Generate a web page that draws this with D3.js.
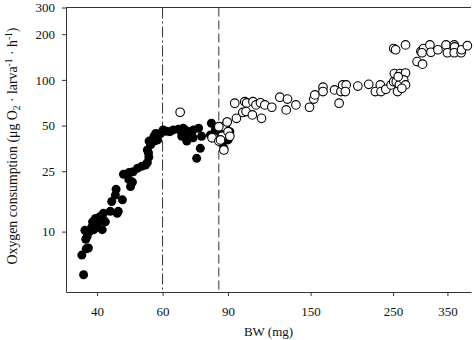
<!DOCTYPE html>
<html>
<head>
<meta charset="utf-8">
<script src="https://d3js.org/d3.v7.min.js"></script>
<style>
    body { margin: 0; background: #ffffff; }
    svg text { font-family: "Liberation Serif", "Times New Roman", serif; }
</style>
</head>
<body>
<svg id="drawing_region"></svg>
<script>
// body weight (mg) and oxygen consumption
const filled_bw = [36.8, 36.4, 37.4, 37.9, 37.3, 37.6, 37.1, 38.2, 38.7, 39.2, 38.9, 40.0, 41.3, 39.6, 40.8,
    41.6, 41.6, 40.4, 42.1, 43.4, 45.3, 45.6, 43.8, 46.8, 44.8, 45.0, 49.2, 49.8, 48.7, 47.1, 48.7, 50.0,
    51.4, 52.8, 54.0, 54.6, 55.1, 55.0, 54.6, 55.7, 55.2, 57.0, 58.2, 56.9, 57.5, 59.3, 60.2, 61.5, 62.8,
    64.1, 66.2, 67.6, 68.2, 69.0, 69.6, 69.0, 70.8, 71.8, 72.6, 67.6, 69.7, 72.5, 74.1, 75.8, 75.0, 76.4,
    80.7, 81.2, 83.2, 85.9, 86.8, 87.7, 90.0, 91.0, 88.6, 89.5];
const filled_o2 = [5.2, 7.0, 7.7, 7.8, 8.9, 9.3, 10.2, 10.0, 10.7, 10.3, 11.6, 11.3, 10.3, 12.2, 12.6,
    13.2, 11.9, 11.6, 11.6, 13.6, 13.2, 13.6, 15.8, 16.2, 17.4, 19.0, 19.8, 21.2, 22.0, 23.9, 24.5, 24.8,
    26.2, 27.0, 27.5, 28.5, 31.0, 33.0, 34.5, 37.3, 39.5, 39.5, 40.2, 42.5, 44.4, 44.4, 46.8, 45.8, 45.6,
    46.8, 47.3, 44.4, 48.0, 46.8, 45.6, 43.4, 45.6, 43.4, 46.8, 42.5, 39.5, 41.5, 30.4, 35.4, 48.0, 42.5,
    43.4, 51.8, 46.8, 44.4, 38.3, 35.4, 40.2, 45.6, 49.2, 52.8];

const open_bw = [66.9, 81.5, 85.0, 86.8, 87.7, 89.5, 90.0, 91.0, 87.7, 85.0, 85.9, 93.8, 99.8, 101, 105,
    107, 110, 113, 118, 94.8, 98.6, 100.6, 104.6, 110.7, 124, 130, 137, 129, 149, 153, 154, 162, 162, 174,
    179, 181, 183, 187, 186, 201, 215, 224, 231, 232, 239, 247, 251, 252, 261, 270, 255, 260, 267, 270,
    257, 258, 264, 251, 254, 270, 290, 300, 297, 302, 314, 316, 330, 299, 347, 365, 366, 350, 365, 381,
    382, 396];
const open_o2 = [61.2, 41.5, 39.5, 42.5, 49.2, 52.8, 45.6, 42.5, 34.5, 49.2, 40.2, 70.2, 71.9, 70.5, 71.9,
    68.4, 70.7, 68.4, 66.0, 55.8, 61.0, 61.8, 58.8, 55.8, 76.9, 74.7, 68.4, 63.4, 66.0, 74.7, 79.6, 89.5,
    83.8, 85.9, 70.2, 83.8, 92.7, 92.7, 83.8, 91.0, 93.5, 83.7, 92.7, 83.7, 86.7, 92.7, 97.3, 110, 110, 111,
    97.3, 92.7, 100, 92.7, 83.7, 105, 88.0, 161, 158, 170, 132, 127, 154, 161, 170, 152, 158, 151, 170, 170,
    165, 151, 151, 151, 158, 168];

const x_ticks = [40, 60, 90, 150, 250, 350];
const y_ticks = [10, 25, 50, 100, 200, 300];
const x_domain = [33, 405];
const y_domain = [4, 300];
const stage_breaks = [60, 85];

class OxygenPlot {

    constructor( config ) {
        this.config = config;
        this.init();
    }

    init() {
        let self = this;

        self.svg = d3.select( self.config.parent )
            .attr('width', self.config.width)
            .attr('height', self.config.height);

        self.xscale = d3.scaleLog()
            .domain( x_domain )
            .range( [self.config.left, self.config.right] );

        self.yscale = d3.scaleLog()
            .domain( y_domain )
            .range( [self.config.bottom, self.config.top] );

        self.xaxis = d3.axisBottom( self.xscale )
            .tickValues( x_ticks )
            .tickFormat( d3.format("d") )
            .tickSize(4)
            .tickSizeOuter(0)
            .tickPadding(11);

        self.yaxis = d3.axisLeft( self.yscale )
            .tickValues( y_ticks )
            .tickFormat( d3.format("d") )
            .tickSize(4)
            .tickSizeOuter(0)
            .tickPadding(7);
    }

    render() {
        let self = this;
        const c = self.config;

        // vertical stage lines
        self.svg.selectAll(".stage")
            .data( stage_breaks )
            .enter()
            .append("line")
            .attr("x1", d => self.xscale(d))
            .attr("x2", d => self.xscale(d))
            .attr("y1", c.top)
            .attr("y2", c.bottom)
            .attr("stroke", "#333")
            .attr("stroke-width", 1)
            .attr("stroke-dasharray", (d, i) => i == 0 ? "11,3,2,3" : "9,4");

        self.svg.append("g")
            .selectAll("circle")
            .data( filled_bw.map((d, i) => [d, filled_o2[i]]) )
            .enter()
            .append("circle")
            .attr("cx", d => self.xscale(d[0]))
            .attr("cy", d => self.yscale(d[1]))
            .attr("r", 4.5)
            .attr("fill", "#000");

        self.svg.append("g")
            .selectAll("circle")
            .data( open_bw.map((d, i) => [d, open_o2[i]]) )
            .enter()
            .append("circle")
            .attr("cx", d => self.xscale(d[0]))
            .attr("cy", d => self.yscale(d[1]))
            .attr("r", 4.3)
            .attr("fill", "#fff")
            .attr("stroke", "#000")
            .attr("stroke-width", 1.1);

        const xg = self.svg.append("g")
            .attr("transform", `translate(0, ${c.bottom})`)
            .call( self.xaxis );

        const yg = self.svg.append("g")
            .attr("transform", `translate(${c.left}, 0)`)
            .call( self.yaxis );

        [xg, yg].forEach( g => {
            g.attr("font-family", null).attr("font-size", null);
            g.selectAll("path, line").attr("stroke", "#333");
            g.selectAll("text").attr("font-size", "13px").attr("fill", "#111");
        });

        // top frame line
        self.svg.append("line")
            .attr("x1", c.left)
            .attr("x2", self.xscale(x_domain[1]))
            .attr("y1", c.top)
            .attr("y2", c.top)
            .attr("stroke", "#333");

        self.svg.append("text")
            .attr("x", (c.left + c.right) / 2)
            .attr("y", 336)
            .attr("text-anchor", "middle")
            .attr("font-size", "13px")
            .attr("fill", "#111")
            .text("BW (mg)");

        const ylab = self.svg.append("text")
            .attr("transform", `translate(17, 146) rotate(-90)`)
            .attr("text-anchor", "middle")
            .attr("font-size", "13.8px")
            .attr("fill", "#111");
        ylab.append("tspan").text("Oxygen consumption (\u03bcg O");
        ylab.append("tspan").attr("font-size", "9.5px").attr("dy", 3).text("2");
        ylab.append("tspan").attr("dy", -3).text(" \u00b7 larva");
        ylab.append("tspan").attr("font-size", "9.5px").attr("dy", -5).text("-1");
        ylab.append("tspan").attr("dy", 5).text(" \u00b7 h");
        ylab.append("tspan").attr("font-size", "9.5px").attr("dy", -5).text("-1");
        ylab.append("tspan").attr("dy", 5).text(")");
    }
}

const plot = new OxygenPlot({
    parent: '#drawing_region',
    width: 474,
    height: 340,
    left: 66,
    right: 471,
    top: 7.5,
    bottom: 292
});
plot.render();
</script>
</body>
</html>
